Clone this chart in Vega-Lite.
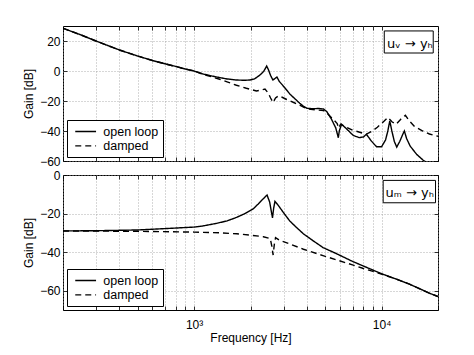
{
  "$schema": "https://vega.github.io/schema/vega-lite/v6.json",
  "padding": {"left": 22, "top": -18, "right": 36, "bottom": 5},
  "background": "white",
  "title": {"text": "gain and phase (measured) y", "font": "Liberation Serif", "fontSize": 18, "fontWeight": "normal", "color": "black", "anchor": "start", "dx": -6, "offset": 25, "frame": "group"},
  "config": {
    "font": "Liberation Sans",
    "view": {"stroke": "black", "strokeWidth": 1},
    "axis": {
      "domain": false, "grid": true, "gridColor": "#9a9a9a", "gridDash": [1, 2], "gridWidth": 0.8,
      "tickColor": "black", "tickSize": -4, "tickWidth": 0.8,
      "labelFontSize": 12, "labelColor": "black", "titleColor": "black",
      "titleFontSize": 12, "titleFontWeight": "normal"
    },
    "legend": {
      "orient": "bottom-left", "offset": 4, "padding": 4, "strokeColor": "black", "fillColor": "white",
      "symbolType": "M-0.5,0H2.7", "symbolSize": 169, "symbolStrokeWidth": 1.4, "symbolStrokeColor": "black",
      "labelFontSize": 12.5, "labelColor": "black", "rowPadding": 0.4, "cornerRadius": 0, "labelOffset": 17.3
    }
  },
  "datasets": {
    "top": [
      {"s": "open loop", "f": 200, "g": 28.5}, {"s": "open loop", "f": 250, "g": 24}, {"s": "open loop", "f": 300, "g": 20},
      {"s": "open loop", "f": 400, "g": 14}, {"s": "open loop", "f": 500, "g": 10}, {"s": "open loop", "f": 600, "g": 7},
      {"s": "open loop", "f": 700, "g": 4.8}, {"s": "open loop", "f": 800, "g": 3}, {"s": "open loop", "f": 900, "g": 1.3},
      {"s": "open loop", "f": 1000, "g": 0}, {"s": "open loop", "f": 1117, "g": -2}, {"s": "open loop", "f": 1250, "g": -3.4},
      {"s": "open loop", "f": 1370, "g": -4.4}, {"s": "open loop", "f": 1500, "g": -5.3}, {"s": "open loop", "f": 1683, "g": -6},
      {"s": "open loop", "f": 1850, "g": -6.2}, {"s": "open loop", "f": 1980, "g": -6}, {"s": "open loop", "f": 2100, "g": -5.3},
      {"s": "open loop", "f": 2240, "g": -2.8}, {"s": "open loop", "f": 2350, "g": -0.3}, {"s": "open loop", "f": 2440, "g": 3.3},
      {"s": "open loop", "f": 2490, "g": 1}, {"s": "open loop", "f": 2560, "g": -3}, {"s": "open loop", "f": 2634, "g": -6},
      {"s": "open loop", "f": 2700, "g": -5}, {"s": "open loop", "f": 2767, "g": -4}, {"s": "open loop", "f": 2850, "g": -7},
      {"s": "open loop", "f": 3040, "g": -11}, {"s": "open loop", "f": 3250, "g": -15.5}, {"s": "open loop", "f": 3450, "g": -18.5},
      {"s": "open loop", "f": 3660, "g": -21.5}, {"s": "open loop", "f": 3830, "g": -23.5}, {"s": "open loop", "f": 4000, "g": -24.8},
      {"s": "open loop", "f": 4300, "g": -25.2}, {"s": "open loop", "f": 4600, "g": -25}, {"s": "open loop", "f": 4900, "g": -25.3},
      {"s": "open loop", "f": 5100, "g": -27}, {"s": "open loop", "f": 5400, "g": -32}, {"s": "open loop", "f": 5700, "g": -38},
      {"s": "open loop", "f": 5880, "g": -44.5}, {"s": "open loop", "f": 5950, "g": -40}, {"s": "open loop", "f": 6120, "g": -35.5},
      {"s": "open loop", "f": 6500, "g": -38.5}, {"s": "open loop", "f": 7070, "g": -43}, {"s": "open loop", "f": 7600, "g": -44.4},
      {"s": "open loop", "f": 8000, "g": -44}, {"s": "open loop", "f": 8300, "g": -42.2}, {"s": "open loop", "f": 8800, "g": -46.5},
      {"s": "open loop", "f": 9400, "g": -50.5}, {"s": "open loop", "f": 10000, "g": -50.5}, {"s": "open loop", "f": 10500, "g": -46},
      {"s": "open loop", "f": 10800, "g": -40}, {"s": "open loop", "f": 11060, "g": -33.3}, {"s": "open loop", "f": 11350, "g": -40},
      {"s": "open loop", "f": 11700, "g": -47}, {"s": "open loop", "f": 12050, "g": -50.7}, {"s": "open loop", "f": 12500, "g": -47},
      {"s": "open loop", "f": 13000, "g": -42}, {"s": "open loop", "f": 13230, "g": -40}, {"s": "open loop", "f": 13600, "g": -45},
      {"s": "open loop", "f": 14200, "g": -50}, {"s": "open loop", "f": 15370, "g": -55.5}, {"s": "open loop", "f": 16680, "g": -59.5},
      {"s": "open loop", "f": 18000, "g": -62}, {"s": "open loop", "f": 20000, "g": -65},
      {"s": "damped", "f": 200, "g": 28.5}, {"s": "damped", "f": 250, "g": 24}, {"s": "damped", "f": 300, "g": 20},
      {"s": "damped", "f": 400, "g": 14}, {"s": "damped", "f": 500, "g": 10}, {"s": "damped", "f": 600, "g": 7},
      {"s": "damped", "f": 700, "g": 4.8}, {"s": "damped", "f": 800, "g": 3}, {"s": "damped", "f": 900, "g": 1.3},
      {"s": "damped", "f": 1000, "g": 0}, {"s": "damped", "f": 1117, "g": -2.2}, {"s": "damped", "f": 1250, "g": -4},
      {"s": "damped", "f": 1370, "g": -5.5}, {"s": "damped", "f": 1500, "g": -7.2}, {"s": "damped", "f": 1683, "g": -9.5},
      {"s": "damped", "f": 1900, "g": -11.5}, {"s": "damped", "f": 2150, "g": -13.3}, {"s": "damped", "f": 2300, "g": -12.6},
      {"s": "damped", "f": 2390, "g": -12}, {"s": "damped", "f": 2480, "g": -14.5}, {"s": "damped", "f": 2560, "g": -18},
      {"s": "damped", "f": 2640, "g": -21}, {"s": "damped", "f": 2720, "g": -18}, {"s": "damped", "f": 2810, "g": -16.7},
      {"s": "damped", "f": 2950, "g": -17.5}, {"s": "damped", "f": 3120, "g": -19}, {"s": "damped", "f": 3400, "g": -21},
      {"s": "damped", "f": 3660, "g": -22.8}, {"s": "damped", "f": 4000, "g": -25.3}, {"s": "damped", "f": 4500, "g": -26},
      {"s": "damped", "f": 4900, "g": -26.3}, {"s": "damped", "f": 5200, "g": -29}, {"s": "damped", "f": 5500, "g": -32},
      {"s": "damped", "f": 5800, "g": -35}, {"s": "damped", "f": 5900, "g": -38}, {"s": "damped", "f": 6050, "g": -35.5},
      {"s": "damped", "f": 6500, "g": -37.5}, {"s": "damped", "f": 7000, "g": -39.5}, {"s": "damped", "f": 7500, "g": -40.5},
      {"s": "damped", "f": 8270, "g": -42.2}, {"s": "damped", "f": 8800, "g": -40.5}, {"s": "damped", "f": 9500, "g": -37.5},
      {"s": "damped", "f": 10300, "g": -33.5}, {"s": "damped", "f": 10800, "g": -31}, {"s": "damped", "f": 11400, "g": -34},
      {"s": "damped", "f": 11950, "g": -35.5}, {"s": "damped", "f": 12700, "g": -32}, {"s": "damped", "f": 13400, "g": -29.5},
      {"s": "damped", "f": 14000, "g": -33}, {"s": "damped", "f": 15000, "g": -37}, {"s": "damped", "f": 16600, "g": -40},
      {"s": "damped", "f": 18000, "g": -42}, {"s": "damped", "f": 20000, "g": -43.5}
    ],
    "bottom": [
      {"s": "open loop", "f": 200, "g": -29}, {"s": "open loop", "f": 300, "g": -28.9}, {"s": "open loop", "f": 500, "g": -28.5},
      {"s": "open loop", "f": 700, "g": -27.8}, {"s": "open loop", "f": 1000, "g": -27}, {"s": "open loop", "f": 1117, "g": -26.4},
      {"s": "open loop", "f": 1300, "g": -25.2}, {"s": "open loop", "f": 1500, "g": -23.8}, {"s": "open loop", "f": 1683, "g": -22},
      {"s": "open loop", "f": 1850, "g": -20.2}, {"s": "open loop", "f": 2060, "g": -17.7}, {"s": "open loop", "f": 2200, "g": -15},
      {"s": "open loop", "f": 2330, "g": -12.5}, {"s": "open loop", "f": 2450, "g": -10.4}, {"s": "open loop", "f": 2530, "g": -14},
      {"s": "open loop", "f": 2620, "g": -22.2}, {"s": "open loop", "f": 2660, "g": -17}, {"s": "open loop", "f": 2700, "g": -13.7},
      {"s": "open loop", "f": 2800, "g": -15.5}, {"s": "open loop", "f": 3040, "g": -20.3}, {"s": "open loop", "f": 3250, "g": -24},
      {"s": "open loop", "f": 3500, "g": -27}, {"s": "open loop", "f": 3830, "g": -30.5}, {"s": "open loop", "f": 4300, "g": -34},
      {"s": "open loop", "f": 4870, "g": -37.6}, {"s": "open loop", "f": 5750, "g": -40.8}, {"s": "open loop", "f": 7000, "g": -44.8},
      {"s": "open loop", "f": 8000, "g": -47.2}, {"s": "open loop", "f": 10000, "g": -51.2}, {"s": "open loop", "f": 12000, "g": -54},
      {"s": "open loop", "f": 14000, "g": -56.5}, {"s": "open loop", "f": 16000, "g": -59}, {"s": "open loop", "f": 18000, "g": -61.3},
      {"s": "open loop", "f": 20000, "g": -63},
      {"s": "damped", "f": 200, "g": -29}, {"s": "damped", "f": 500, "g": -29.2}, {"s": "damped", "f": 1000, "g": -29.6},
      {"s": "damped", "f": 1400, "g": -30}, {"s": "damped", "f": 1690, "g": -30.5}, {"s": "damped", "f": 2000, "g": -31.2},
      {"s": "damped", "f": 2340, "g": -32}, {"s": "damped", "f": 2550, "g": -33}, {"s": "damped", "f": 2600, "g": -37},
      {"s": "damped", "f": 2640, "g": -41.5}, {"s": "damped", "f": 2680, "g": -36}, {"s": "damped", "f": 2720, "g": -32.5},
      {"s": "damped", "f": 2850, "g": -33.8}, {"s": "damped", "f": 3250, "g": -35.8}, {"s": "damped", "f": 3830, "g": -38.5},
      {"s": "damped", "f": 4870, "g": -41.8}, {"s": "damped", "f": 5750, "g": -44}, {"s": "damped", "f": 7000, "g": -46.6},
      {"s": "damped", "f": 8000, "g": -48.5}, {"s": "damped", "f": 9000, "g": -50}, {"s": "damped", "f": 10000, "g": -51.4},
      {"s": "damped", "f": 12000, "g": -54}, {"s": "damped", "f": 14000, "g": -56.5}, {"s": "damped", "f": 16000, "g": -59},
      {"s": "damped", "f": 18000, "g": -61.3}, {"s": "damped", "f": 20000, "g": -63}
    ]
  },
  "spacing": 14,
  "bounds": "flush",
  "resolve": {"scale": {"strokeDash": "independent"}, "legend": {"strokeDash": "independent"}},
  "vconcat": [
    {
      "width": 375, "height": 135,
      "data": {"name": "top"},
      "layer": [
        {
          "mark": {"type": "line", "color": "black", "strokeWidth": 1.4, "clip": true},
          "encoding": {
            "x": {"field": "f", "type": "quantitative",
              "scale": {"type": "log", "domain": [200, 20000], "nice": false},
              "axis": {"orient": "bottom", "values": [200,300,400,500,600,700,800,900,1000,2000,3000,4000,5000,6000,7000,8000,9000,10000,20000], "labels": false, "title": null}},
            "y": {"field": "g", "type": "quantitative",
              "scale": {"domain": [-60, 30], "nice": false},
              "axis": {"orient": "left", "values": [-60, -40, -20, 0, 20], "title": "Gain [dB]", "labelPadding": 7, "titlePadding": 4}},
            "strokeDash": {"field": "s", "type": "nominal",
              "scale": {"domain": ["open loop", "damped"], "range": [[1, 0], [6, 4]]},
              "legend": {"title": null}}
          }
        },
        {
          "mark": {"type": "line", "opacity": 0},
          "encoding": {
            "x": {"field": "f", "type": "quantitative",
              "axis": {"orient": "top", "values": [200,300,400,500,600,700,800,900,1000,2000,3000,4000,5000,6000,7000,8000,9000,10000,20000], "labels": false, "title": null, "grid": false}},
            "y": {"field": "g", "type": "quantitative",
              "axis": {"orient": "right", "values": [-60, -40, -20, 0, 20], "labels": false, "title": null, "grid": false}}
          }
        },
        {
          "data": {"values": [{}]},
          "mark": {"type": "rect", "fill": "white", "stroke": "black", "strokeWidth": 1},
          "encoding": {
            "x": {"datum": 10340, "type": "quantitative", "axis": null},
            "x2": {"datum": 18860},
            "y": {"datum": 26.7, "type": "quantitative", "axis": null},
            "y2": {"datum": 12}
          }
        },
        {
          "data": {"values": [{}]},
          "mark": {"type": "text", "align": "left", "baseline": "alphabetic", "font": "DejaVu Sans", "fontSize": 13, "fill": "black"},
          "encoding": {
            "x": {"datum": 10700, "type": "quantitative", "axis": null},
            "y": {"datum": 15.5, "type": "quantitative", "axis": null},
            "text": {"value": "uᵥ → yₕ"}
          }
        }
      ],
      "resolve": {"axis": {"x": "independent", "y": "independent"}}
    },
    {
      "width": 375, "height": 135,
      "data": {"name": "bottom"},
      "layer": [
        {
          "mark": {"type": "line", "color": "black", "strokeWidth": 1.4, "clip": true},
          "encoding": {
            "x": {"field": "f", "type": "quantitative",
              "scale": {"type": "log", "domain": [200, 20000], "nice": false},
              "axis": {"orient": "bottom", "values": [200,300,400,500,600,700,800,900,1000,2000,3000,4000,5000,6000,7000,8000,9000,10000,20000],
                "labelExpr": "datum.value == 1000 ? '10³' : datum.value == 10000 ? '10⁴' : ''", "title": "Frequency [Hz]", "labelPadding": 13, "titlePadding": 2}},
            "y": {"field": "g", "type": "quantitative",
              "scale": {"domain": [-70, 0], "nice": false},
              "axis": {"orient": "left", "values": [-60, -40, -20, 0], "title": "Gain [dB]", "labelPadding": 7, "titlePadding": 4}},
            "strokeDash": {"field": "s", "type": "nominal",
              "scale": {"domain": ["open loop", "damped"], "range": [[1, 0], [6, 4]]},
              "legend": {"title": null}}
          }
        },
        {
          "mark": {"type": "line", "opacity": 0},
          "encoding": {
            "x": {"field": "f", "type": "quantitative",
              "axis": {"orient": "top", "values": [200,300,400,500,600,700,800,900,1000,2000,3000,4000,5000,6000,7000,8000,9000,10000,20000], "labels": false, "title": null, "grid": false}},
            "y": {"field": "g", "type": "quantitative",
              "axis": {"orient": "right", "values": [-60, -40, -20, 0], "labels": false, "title": null, "grid": false}}
          }
        },
        {
          "data": {"values": [{}]},
          "mark": {"type": "rect", "fill": "white", "stroke": "black", "strokeWidth": 1},
          "encoding": {
            "x": {"datum": 10200, "type": "quantitative", "axis": null},
            "x2": {"datum": 19400},
            "y": {"datum": -2.8, "type": "quantitative", "axis": null},
            "y2": {"datum": -14.4}
          }
        },
        {
          "data": {"values": [{}]},
          "mark": {"type": "text", "align": "left", "baseline": "alphabetic", "font": "DejaVu Sans", "fontSize": 13, "fill": "black"},
          "encoding": {
            "x": {"datum": 10500, "type": "quantitative", "axis": null},
            "y": {"datum": -11.5, "type": "quantitative", "axis": null},
            "text": {"value": "uₘ → yₕ"}
          }
        }
      ],
      "resolve": {"axis": {"x": "independent", "y": "independent"}}
    }
  ]
}
